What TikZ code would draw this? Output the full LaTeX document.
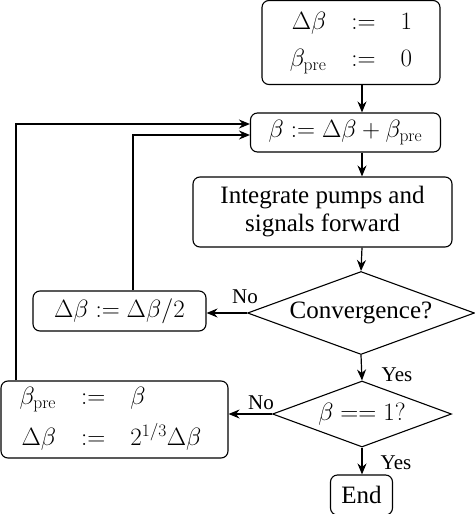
\documentclass[tikz,border=0pt]{standalone}
\usepackage{fix-cm}
\usepackage[no-math]{fontspec}
\setmainfont{Liberation Serif}
\usetikzlibrary{shapes.geometric,arrows.meta}
\begin{document}
\begin{tikzpicture}[x=1pt,y=-1pt,
  font=\fontsize{25}{28}\selectfont,
  every node/.style={inner sep=0pt},
  box/.style={draw,rounded corners=7pt,line width=1.1pt,align=center},
  dia/.style={draw,diamond,aspect=3,inner sep=0pt,line width=1.1pt},
  arr/.style={line width=1.2pt,-{Stealth[length=11pt,width=9pt]}},
  lbl/.style={font=\fontsize{21}{25}\selectfont}]
\useasboundingbox (0,0) rectangle (474,514);
\arraycolsep=12.5pt
\coordinate (col) at (362,0);
\node[box,minimum width=178pt,minimum height=84pt] (init) at (351,42.5)
  {$\begin{array}{rcl}\Delta\beta & := & 1\\[9pt] \beta_{\mathrm{pre}} & := & 0\end{array}$};
\node[box,minimum width=190pt,minimum height=39pt] (upd) at (345.5,132.5)
  {$\beta := \Delta\beta + \beta_{\mathrm{pre}}$};
\node[box,minimum width=259pt,minimum height=70pt] (integ) at (322.5,212)
  {Integrate pumps and\\signals forward};
\node[dia,minimum width=227pt,minimum height=83pt] (conv) at (361,313) {Convergence?};
\node[box,minimum width=173pt,minimum height=40pt] (half) at (119.5,311)
  {$\Delta\beta := \Delta\beta/2$};
\node[dia,minimum width=179pt,minimum height=66pt] (b1) at (362,414) {$\beta == 1?$};
\node[box,minimum width=227pt,minimum height=77pt] (left) at (114.5,419.5)
  {$\begin{array}{rcl}\beta_{\mathrm{pre}} & := & \beta\\[10pt] \Delta\beta & := & 2^{1/3}\Delta\beta\end{array}$\hspace*{8pt}};
\node[box,minimum width=62pt,minimum height=40pt] (end) at (361.5,495) {End};
% labels
\node[lbl] (no1) at (245,297) {No};
\node[lbl] (yes1) at (397,375) {Yes};
\node[lbl] (no2) at (261,403) {No};
\node[lbl] (yes2) at (396,463) {Yes};
% connectors
\draw[arr] (init.south -| col) -- (upd.north -| col);
\draw[arr] (upd.south -| col) -- (integ.north -| col);
\draw[arr] (integ.south -| col) -- (conv.north);
\draw[arr] (conv.west) -- (conv.west -| half.east);
\draw[arr] (conv.south) -- (b1.north);
\draw[arr] (b1.west) -- (b1.west -| left.east);
\draw[arr] (b1.south) -- (end.north -| b1.south);
\coordinate (o1) at (16,124);
\coordinate (o2) at (133,135);
\draw[arr] (left.north -| o1) -- (o1) -- (upd.west |- o1);
\draw[arr] (half.north -| o2) -- (o2) -- (upd.west |- o2);
\end{tikzpicture}
\end{document}
